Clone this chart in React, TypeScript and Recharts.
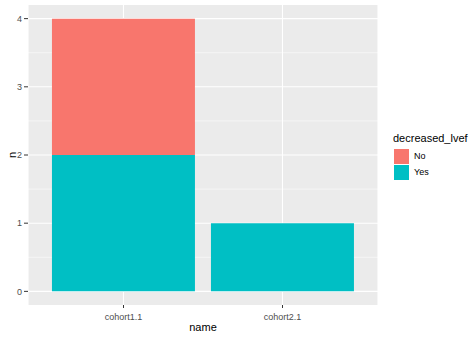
import React from 'react';
import {
  BarChart,
  Bar,
  XAxis,
  YAxis,
  CartesianGrid,
  Legend,
} from 'recharts';

const categories = ['cohort1.1', 'cohort2.1'];
const yesCounts = [2, 1];
const noCounts = [2, 0];
const yTicks = [0, 1, 2, 3, 4];
const yMinorTicks = [0.5, 1.5, 2.5, 3.5];
const legendTitle = 'decreased_lvef';
const legendItems = [
  { label: 'No', color: '#F8766D' },
  { label: 'Yes', color: '#00BFC4' },
];

const data = categories.map((name, i) => ({
  name,
  Yes: yesCounts[i],
  No: noCounts[i],
}));

const FONT = '"Liberation Sans", Arial, sans-serif';

const renderLegend = () => (
  <div style={{ fontFamily: FONT, color: '#000' }}>
    <div style={{ fontSize: 11, lineHeight: '13px', height: 13, whiteSpace: 'nowrap' }}>
      {legendTitle}
    </div>
    <div style={{ height: 3 }} />
    {legendItems.map((it) => (
      <div
        key={it.label}
        style={{ display: 'flex', alignItems: 'center', height: 16 }}
      >
        <div
          style={{
            width: 15,
            height: 15,
            background: it.color,
            marginLeft: 1,
          }}
        />
        <span style={{ fontSize: 9, marginLeft: 5 }}>{it.label}</span>
      </div>
    ))}
  </div>
);

const YLabel = (props: any) => {
  const vb = props.viewBox || {};
  const x = 12;
  const y = vb.y + vb.height / 2;
  return (
    <text
      x={x}
      y={y}
      transform={`rotate(-90, ${x}, ${y})`}
      textAnchor="middle"
      dominantBaseline="central"
      fontSize={11}
      fontFamily={FONT}
      fill="#000"
    >
      n
    </text>
  );
};

const XLabel = (props: any) => {
  const vb = props.viewBox || {};
  const x = vb.x + vb.width / 2;
  return (
    <text
      x={x}
      y={331}
      textAnchor="middle"
      fontSize={11}
      fontFamily={FONT}
      fill="#000"
    >
      name
    </text>
  );
};

export default function App() {
  return (
    <div style={{ position: 'absolute', left: 0, top: 0, width: 474, height: 338, background: '#fff' }}>
      <BarChart
        width={474}
        height={338}
        data={data}
        margin={{ top: 5, right: 96, bottom: 0, left: 0 }}
        barCategoryGap="5%"
        style={{ fontFamily: FONT }}
      >
        <CartesianGrid
          fill="#EBEBEB"
          stroke="#FFFFFF"
          strokeWidth={0.55}
          vertical={false}
          horizontalValues={yMinorTicks}
        />
        <CartesianGrid
          stroke="#FFFFFF"
          strokeWidth={1.1}
          horizontalValues={yTicks}
        />
        <XAxis
          dataKey="name"
          type="category"
          height={33}
          padding={{ left: 16, right: 16 }}
          axisLine={false}
          tickSize={3}
          tickMargin={6}
          tickLine={{ stroke: '#333333' }}
          tick={{ fill: '#4D4D4D', fontSize: 9, fontFamily: FONT }}
          label={<XLabel />}
        />
        <YAxis
          type="number"
          domain={[-0.2, 4.2]}
          ticks={yTicks}
          width={28}
          axisLine={false}
          tickSize={4}
          tickMargin={2}
          tickLine={{ stroke: '#333333' }}
          tick={{ fill: '#4D4D4D', fontSize: 9, fontFamily: FONT }}
          allowDataOverflow
          label={<YLabel />}
        />
        <Bar dataKey="Yes" stackId="a" fill="#00BFC4" isAnimationActive={false} />
        <Bar dataKey="No" stackId="a" fill="#F8766D" isAnimationActive={false} />
        <Legend
          layout="horizontal"
          verticalAlign="middle"
          align="center"
          content={renderLegend}
          wrapperStyle={{ position: 'absolute', left: 393, top: 132, width: 80, height: 50 }}
        />
      </BarChart>
    </div>
  );
}
